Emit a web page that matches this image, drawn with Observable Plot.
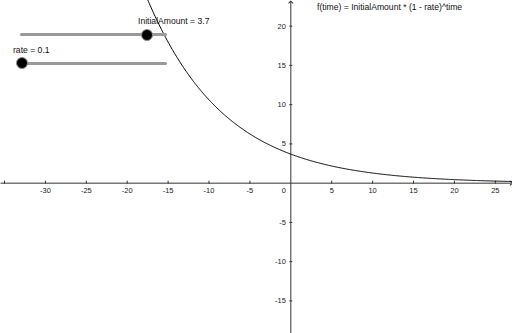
<!DOCTYPE html>
<html>
<head>
<meta charset="utf-8">
<script src="https://cdn.jsdelivr.net/npm/d3@7"></script>
<script src="https://cdn.jsdelivr.net/npm/@observablehq/plot@0.6"></script>
<style>
  html, body { margin: 0; padding: 0; background: #fff; }
  #wrap { position: relative; width: 512px; height: 333px; overflow: hidden; font-family: "Liberation Sans", Arial, sans-serif; }
  #wrap svg { position: absolute; left: 0; top: 0; }
  .lbl { position: absolute; font-size: 8.6px; line-height: 1; color: #111; white-space: nowrap; }
  .track { position: absolute; height: 3.6px; background: #9a9a9a; border-radius: 2px; }
  .knob { position: absolute; width: 12px; height: 12px; box-sizing: border-box; border-radius: 50%; background: #000; border: 1.6px solid #8c8c8c; }
</style>
</head>
<body>
<div id="wrap"></div>
<script>
// Parameters shown on the sliders
const initialAmount = 3.7;
const rate = 0.1;
const formulaText = "f(time) = InitialAmount * (1 - rate)^time";

// Visible window of the graphics view
const xDomain = [-35.49, 27.1];
const yDomain = [-19.15, 23.27];

// Axis ticks and labels
const xTicks = [-35, -30, -25, -20, -15, -10, -5, 5, 10, 15, 20, 25];
const xLabels = [-30, -25, -20, -15, -10, -5, 5, 10, 15, 20, 25];
const yTicks = [-15, -10, -5, 5, 10, 15, 20];

// Slider ranges (min, max) for the two sliders
const sliderInitial = {name: "InitialAmount", min: -5, max: 5, value: initialAmount};
const sliderRate = {name: "rate", min: 0.1, max: 1, value: rate};

// Sampled function f(time) = InitialAmount * (1 - rate)^time
const times = d3.range(-18, 27.2, 0.1);
const curve = times.map(t => ({t, v: initialAmount * Math.pow(1 - rate, t)}));

const fmt = d => (d < 0 ? "-" : "") + Math.abs(d);
const axisColor = "#333";

const chart = Plot.plot({
  width: 512,
  height: 333,
  margin: 0,
  x: {domain: xDomain, axis: null},
  y: {domain: yDomain, axis: null},
  style: {fontFamily: "Liberation Sans, Arial, sans-serif", background: "transparent"},
  marks: [
    Plot.link([0], {x1: xDomain[0], x2: xDomain[1] - 0.15, y1: 0, y2: 0, stroke: axisColor, strokeWidth: 1, markerEnd: "arrow"}),
    Plot.link([0], {x1: 0, x2: 0, y1: yDomain[0], y2: yDomain[1] - 0.2, stroke: axisColor, strokeWidth: 1, markerEnd: "arrow"}),
    Plot.ruleX(xTicks, {x: d => d, y1: 0, y2: 0, insetTop: -2, insetBottom: -1, stroke: axisColor}),
    Plot.ruleY(yTicks, {y: d => d, x1: 0, x2: 0, insetLeft: -1, insetRight: -2, stroke: axisColor}),
    Plot.text(xLabels, {x: d => d, y: 0, dy: 7, text: fmt, fontSize: 7.5, fill: "#222"}),
    Plot.text(yTicks, {x: 0, y: d => d, dx: -5, text: fmt, textAnchor: "end", fontSize: 7.5, fill: "#222"}),
    Plot.text([0], {x: 0, y: 0, dx: -7, dy: 7, text: d => String(d), fontSize: 7.5, fill: "#222"}),
    Plot.line(curve, {x: "t", y: "v", stroke: "#000", strokeWidth: 1, clip: true})
  ]
});

const wrap = document.getElementById("wrap");
wrap.appendChild(chart);

function addDiv(cls, css, text) {
  const d = document.createElement("div");
  d.className = cls;
  Object.assign(d.style, css);
  if (text != null) d.textContent = text;
  wrap.appendChild(d);
  return d;
}

// Sliders (GeoGebra-like controls)
function slider(s, left, top, width, labelLeft, labelTop) {
  addDiv("track", {left: left + "px", top: (top - 1.8) + "px", width: width + "px"});
  const frac = (s.value - s.min) / (s.max - s.min);
  const cx = left + 1.7 + frac * (width - 3.4);
  addDiv("knob", {left: (cx - 6) + "px", top: (top - 6) + "px"});
  addDiv("lbl", {left: labelLeft + "px", top: labelTop + "px"}, s.name + " = " + s.value);
}
slider(sliderInitial, 20, 34.7, 147, 138, 16.5);
slider(sliderRate, 20, 63.3, 147, 13, 46);

addDiv("lbl", {left: "317px", top: "3px"}, formulaText);
</script>
</body>
</html>
